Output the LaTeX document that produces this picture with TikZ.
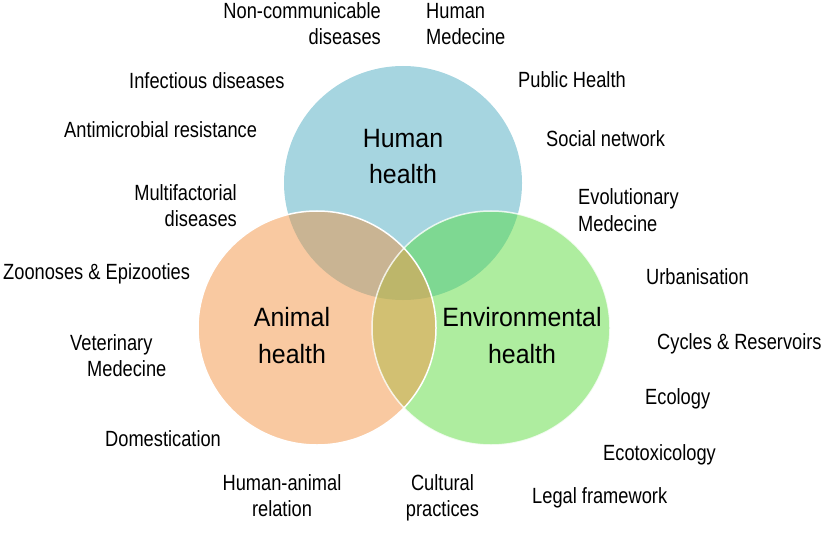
\documentclass[tikz,border=0pt]{standalone}
\usepackage{fontspec}
\setmainfont{Liberation Sans}
\newfontfamily\topicfont{Liberation Sans}[FakeStretch=0.83]
\newfontfamily\fieldfont{Liberation Sans}[FakeStretch=0.94]
\usetikzlibrary{calc}

\definecolor{humanblue}{RGB}{166,213,224}
\definecolor{animalorange}{RGB}{249,201,161}
\definecolor{envgreen}{RGB}{174,237,159}
\definecolor{humananimal}{RGB}{201,180,147}
\definecolor{humanenv}{RGB}{126,216,146}
\definecolor{animalenv}{RGB}{210,192,114}
\definecolor{allthree}{RGB}{189,182,106}

\begin{document}
\begin{tikzpicture}[x=1pt, y=-1pt]
    \tikzstyle{topic} = [font=\topicfont\fontsize{22}{26}\selectfont, inner sep=0pt]
    \tikzstyle{field} = [font=\fieldfont\fontsize{26.5}{36.5}\selectfont, inner sep=0pt,
        align=center]
    \tikzstyle{rim} = [white, line width=1.5pt]

    \useasboundingbox (0,0) rectangle (826,537);

    % Circles ----------------------------------------
    \coordinate (human) at (403,183);
    \coordinate (animal) at (317,328);
    \coordinate (env) at (491,328);
    \def\rx{119}
    \def\ry{117}

    \fill[humanblue] (human) ellipse [x radius=\rx, y radius=\ry];
    \fill[animalorange] (animal) ellipse [x radius=\rx, y radius=\ry];
    \fill[envgreen] (env) ellipse [x radius=\rx, y radius=\ry];

    % overlaps
    \begin{scope}
        \clip (human) ellipse [x radius=\rx, y radius=\ry];
        \fill[humananimal] (animal) ellipse [x radius=\rx, y radius=\ry];
        \fill[humanenv] (env) ellipse [x radius=\rx, y radius=\ry];
    \end{scope}
    \begin{scope}
        \clip (animal) ellipse [x radius=\rx, y radius=\ry];
        \fill[animalenv] (env) ellipse [x radius=\rx, y radius=\ry];
        \clip (human) ellipse [x radius=\rx, y radius=\ry];
        \fill[allthree] (env) ellipse [x radius=\rx, y radius=\ry];
    \end{scope}

    \draw[rim, opacity=.8] (env) ellipse [x radius=\rx, y radius=\ry];
    \draw[rim] (animal) ellipse [x radius=\rx, y radius=\ry];
    % ---------------------------------------------------

    % Fields (base = last line)
    \node (humanlabel) at (403,184) [field, anchor=base] {Human\\health};
    \node (animallabel) at (292,363) [field, anchor=base] {Animal\\health};
    \node (envlabel) at (522,363) [field, anchor=base] {Environmental\\health};

    % Topics, top ----------------------------------------
    \node (noncomm) at (381,44.5) [topic, anchor=base east, align=right]
        {Non-communicable\\diseases};
    \node (humanmed) at (426,44.5) [topic, anchor=base west, align=left]
        {Human\\Medecine};

    % left
    \node (infectious) at (129,89) [topic, anchor=base west] {Infectious diseases};
    \node (amr) at (64,138) [topic, anchor=base west] {Antimicrobial resistance};
    \node (multifactorial) at (237,226) [topic, anchor=base east, align=right]
        {Multifactorial\\diseases};
    \node (zoonoses) at (3,279) [topic, anchor=base west] {Zoonoses \& Epizooties};
    \node (veterinary) at (70,376) [topic, anchor=base west, align=left]
        {Veterinary\\\hspace*{17pt}Medecine};
    \node (domestication) at (105,446) [topic, anchor=base west] {Domestication};

    % right
    \node (public) at (518,88) [topic, anchor=base west] {Public Health};
    \node (social) at (546,147) [topic, anchor=base west] {Social network};
    \node (evolutionary) at (578,231) [topic, anchor=base west, align=left]
        {Evolutionary\\Medecine};
    \node (urban) at (646,284) [topic, anchor=base west] {Urbanisation};
    \node (cycles) at (657,349) [topic, anchor=base west] {Cycles \& Reservoirs};
    \node (ecology) at (645,404) [topic, anchor=base west] {Ecology};
    \node (ecotox) at (603,460) [topic, anchor=base west] {Ecotoxicology};
    \node (legal) at (532,503) [topic, anchor=base west] {Legal framework};

    % bottom
    \node (humananimalrel) at (282,516) [topic, anchor=base, align=center]
        {Human-animal\\relation};
    \node (cultural) at (442.5,516) [topic, anchor=base, align=center]
        {Cultural\\practices};
    % ---------------------------------------------------
\end{tikzpicture}
\end{document}
